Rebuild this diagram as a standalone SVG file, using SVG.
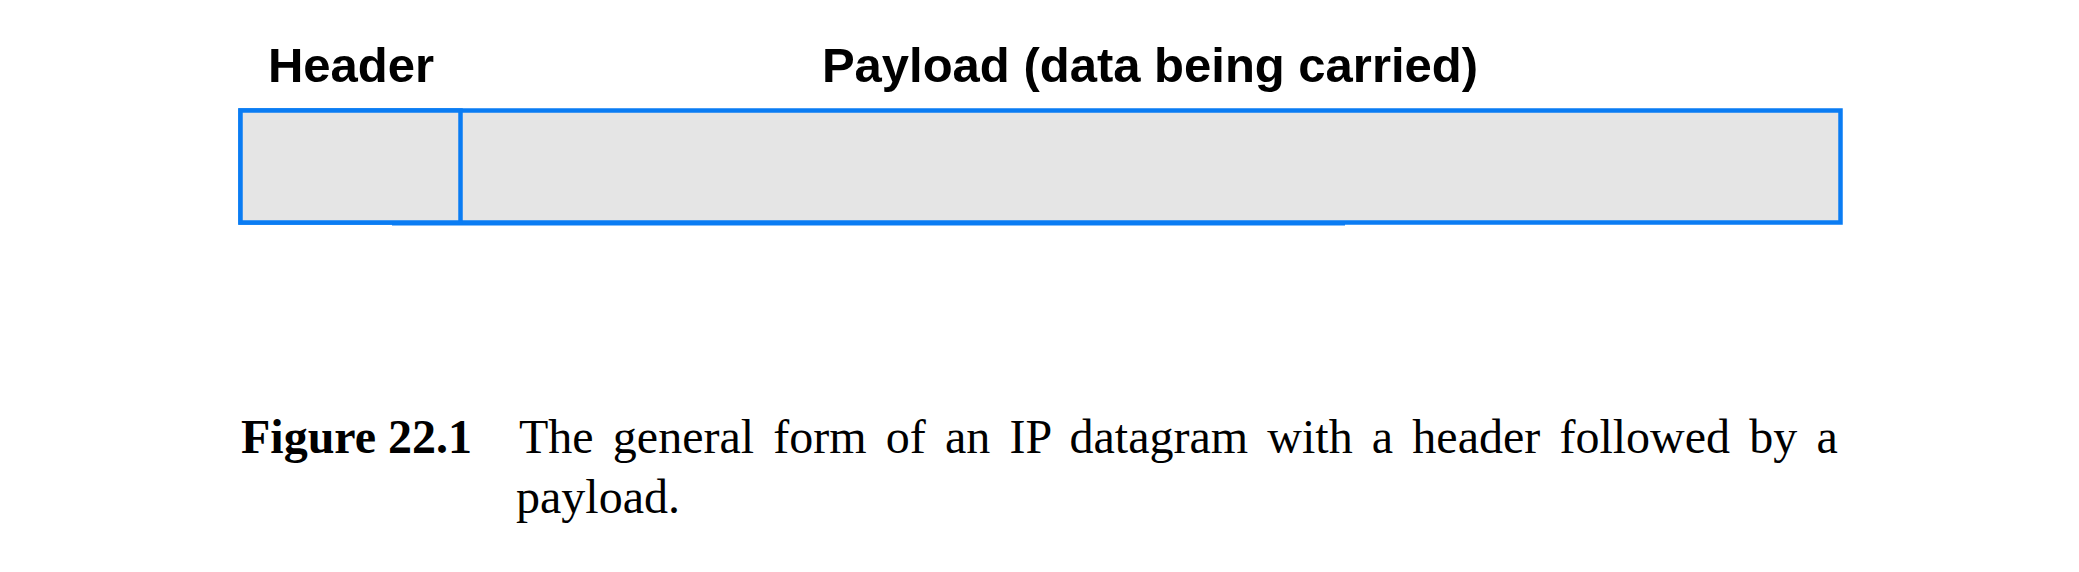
<svg xmlns="http://www.w3.org/2000/svg" width="2079" height="572" viewBox="0 0 2079 572">
<style>
.lbl{font-family:"Liberation Sans",Arial,sans-serif;font-weight:bold;font-size:49px;fill:#000;text-anchor:middle}
.cap{font-family:"Liberation Serif","Times New Roman",serif;font-size:48px;fill:#000}
.cell{fill:#e5e5e5;stroke:#0a7cf3;stroke-width:4.5}
</style>
<rect width="2079" height="572" fill="#fff"/>
<g id="datagram">
<rect class="cell" x="240.5" y="110.5" width="1600" height="112"/>
<line x1="392" y1="224" x2="1345" y2="224" stroke="#0a7cf3" stroke-width="3"/>
</g>
<g id="header">
<rect class="cell" x="240.5" y="110.5" width="220" height="112"/>
<text class="lbl" x="351" y="82">Header</text>
</g>
<g id="payload">
<text class="lbl" x="1150" y="82" font-size="49.5">Payload (data being carried)</text>
</g>
<g id="connectors"></g>
<g id="caption">
<text class="cap" x="241" y="453" font-weight="bold" font-size="49.5">Figure 22.1</text>
<text class="cap" x="519" y="453" word-spacing="7.2">The general form of an IP datagram with a header followed by a</text>
<text class="cap" x="516" y="513">payload.</text>
</g>
</svg>
